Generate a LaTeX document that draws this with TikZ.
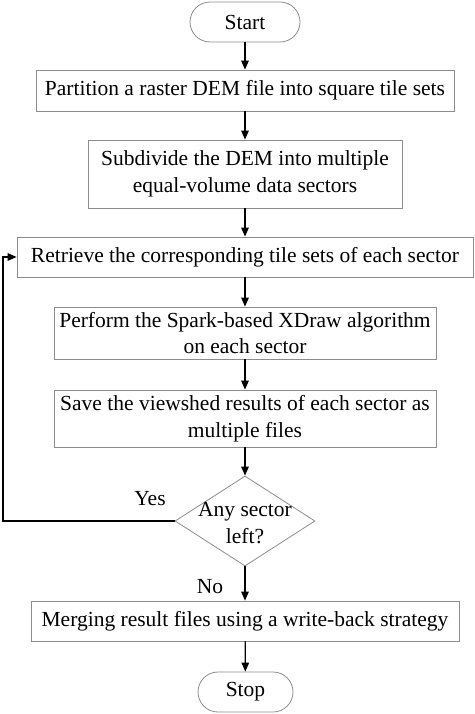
\documentclass[tikz,border=0pt]{standalone}
\usepackage{fontspec}
\setmainfont{Liberation Serif}
\usetikzlibrary{shapes.geometric,arrows.meta}
\begin{document}
\begin{tikzpicture}[x=1pt,y=-1pt,
  every node/.style={font=\fontsize{21.5}{26.5}\selectfont, align=center, inner sep=0pt},
  procbox/.style={draw=black!45, line width=0.8pt, rectangle},
  termbox/.style={draw=black!45, line width=0.8pt, rectangle, rounded corners=20pt},
  flow/.style={line width=1.3pt, -{Triangle[length=9pt,width=7.5pt]}},
  lbl/.style={font=\fontsize{21.5}{24}\selectfont}]
\useasboundingbox (0,0) rectangle (474,714);
\node[termbox, minimum width=110, minimum height=40] (start) at (245,22) {Start};
\node[procbox, minimum width=418, minimum height=41] (b1) at (245,90.5) {Partition a raster DEM file into square tile sets};
\node[procbox, minimum width=314, minimum height=68] (b2) at (245,174) {Subdivide the DEM into multiple\\equal-volume data sectors};
\node[procbox, minimum width=456, minimum height=40] (b3) at (245,257) {Retrieve the corresponding tile sets of each sector};
\node[procbox, minimum width=382, minimum height=52] (b4) at (245,333) {Perform the Spark-based XDraw algorithm\\on each sector};
\node[procbox, minimum width=382, minimum height=57] (b5) at (245,418.5) {Save the viewshed results of each sector as\\multiple files};
\node[diamond, draw=black!45, line width=0.8pt, minimum width=140, minimum height=90] (dia) at (245,521) {};
\node (diatext) at (245,523) {Any sector\\left?};
\node[procbox, minimum width=428, minimum height=40] (b6) at (245,621) {Merging result files using a write-back strategy};
\node[termbox, minimum width=95, minimum height=40] (stop) at (245.5,692) {Stop};
\node[lbl] (yes) at (150,499) {Yes};
\node[lbl] (no) at (210,587) {No};
\coordinate (loopx) at (3,521);
\draw[flow] (start) -- (b1);
\draw[flow] (b1) -- (b2);
\draw[flow] (b2) -- (b3);
\draw[flow] (b3) -- (b4);
\draw[flow] (b4) -- (b5);
\draw[flow] (b5) -- (dia);
\draw[flow] (dia) -- (b6);
\draw[flow] (b6) -- (stop);
\draw[flow] (dia.west) -- (loopx) |- (b3.west);
\end{tikzpicture}
\end{document}
